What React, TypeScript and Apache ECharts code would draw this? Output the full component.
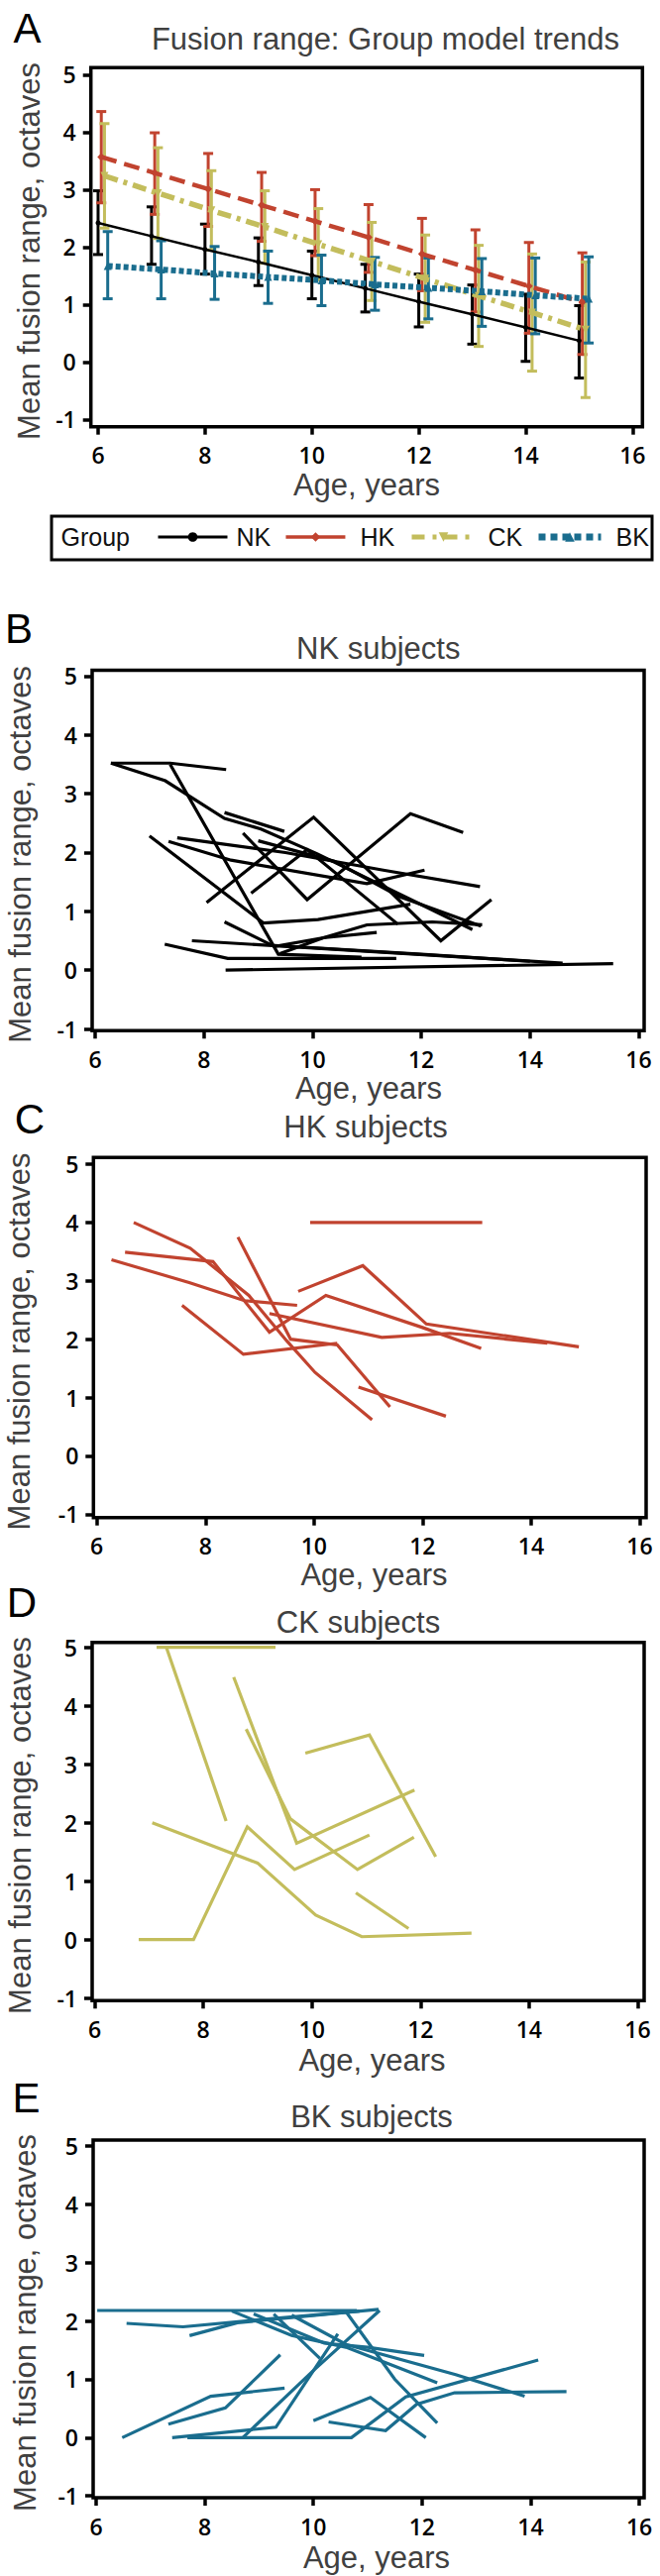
import React, { useEffect, useRef } from 'react';
import * as echarts from 'echarts';

// ---- panel A: group model trends (age, mean, CI) ----
const ages = [6, 7, 8, 9, 10, 11, 12, 13, 14, 15];

const nkMean = [2.42, 2.19, 1.96, 1.74, 1.51, 1.28, 1.05, 0.83, 0.6, 0.37];
const nkHigh = [2.98, 2.7, 2.4, 2.16, 1.93, 1.7, 1.53, 1.34, 1.18, 0.98];
const nkLow = [1.87, 1.7, 1.53, 1.33, 1.1, 0.87, 0.61, 0.31, 0.01, -0.28];

const hkMean = [3.57, 3.29, 3.01, 2.73, 2.45, 2.17, 1.88, 1.6, 1.32, 1.04];
const hkHigh = [4.36, 3.99, 3.63, 3.3, 3.0, 2.74, 2.5, 2.3, 2.08, 1.9];
const hkLow = [2.77, 2.57, 2.36, 2.1, 1.85, 1.56, 1.24, 0.87, 0.5, 0.13];

const ckMean = [3.24, 2.94, 2.64, 2.35, 2.05, 1.75, 1.45, 1.15, 0.86, 0.56];
const ckHigh = [4.15, 3.73, 3.33, 2.98, 2.67, 2.43, 2.21, 2.03, 1.88, 1.74];
const ckLow = [2.33, 2.15, 1.95, 1.72, 1.43, 1.07, 0.69, 0.27, -0.16, -0.62];

const bkMean = [1.67, 1.61, 1.54, 1.48, 1.42, 1.35, 1.29, 1.23, 1.16, 1.1];
const bkHigh = [2.27, 2.11, 2.01, 1.93, 1.86, 1.82, 1.81, 1.8, 1.81, 1.83];
const bkLow = [1.1, 1.1, 1.09, 1.02, 0.98, 0.9, 0.75, 0.62, 0.49, 0.33];

const xTicks = [6, 8, 10, 12, 14, 16];
const yTicks = [-1, 0, 1, 2, 3, 4, 5];

// ---- panels B-E: individual subjects, [age, mean fusion range] ----
const nkSubjects = [
  [[6.29, 3.52], [7.38, 3.52], [8.41, 3.41]],
  [[6.29, 3.52], [7.29, 3.22], [8.38, 2.58], [9.05, 2.4], [10.08, 1.98], [12.94, 0.69]],
  [[8.38, 2.68], [9.48, 2.36]],
  [[7.38, 3.5], [9.37, 0.27], [10.9, 0.22]],
  [[7.51, 2.25], [9.5, 2.0], [11.3, 1.7], [13.08, 1.42]],
  [[7.35, 2.19], [8.5, 1.87], [11.0, 1.47], [12.06, 1.7]],
  [[7.0, 2.28], [9.1, 0.8], [10.1, 0.86], [11.8, 1.12]],
  [[8.72, 2.33], [9.9, 1.2], [11.8, 2.66], [12.77, 2.34]],
  [[8.05, 1.15], [10.02, 2.6], [12.36, 0.5], [13.29, 1.2]],
  [[8.87, 1.31], [9.9, 2.05], [11.57, 0.78]],
  [[7.28, 0.44], [8.44, 0.2], [11.54, 0.2]],
  [[7.78, 0.5], [14.6, 0.12]],
  [[8.4, 0.0], [15.53, 0.11]],
  [[9.3, 0.42], [12.0, 0.27], [14.0, 0.15]],
  [[8.38, 0.82], [9.3, 0.4], [10.2, 0.55], [11.18, 0.64]],
  [[9.4, 0.28], [10.2, 0.55], [11.0, 0.77], [12.2, 0.82], [13.12, 0.77]],
  [[9.0, 2.2], [10.4, 1.85], [11.6, 1.25], [13.1, 0.75]],
];

const hkSubjects = [
  [[9.93, 4.0], [13.1, 4.0]],
  [[6.68, 4.0], [7.72, 3.56], [8.8, 2.75], [9.5, 1.97], [10.02, 1.43], [11.07, 0.62]],
  [[6.52, 3.49], [8.14, 3.33], [9.18, 2.12], [10.22, 2.75], [12.0, 2.2], [13.08, 1.84]],
  [[6.27, 3.36], [7.7, 2.97], [8.72, 2.66], [9.69, 2.58]],
  [[8.6, 3.75], [9.57, 2.0], [10.43, 1.9], [11.4, 0.84]],
  [[7.57, 2.58], [8.7, 1.74], [10.43, 1.93]],
  [[9.71, 2.82], [10.9, 3.26], [12.07, 2.26], [14.88, 1.87]],
  [[9.18, 2.44], [11.25, 2.03], [12.5, 2.1], [14.3, 1.93]],
  [[10.82, 1.18], [12.43, 0.68]],
];

const ckSubjects = [
  [[7.14, 5.0], [9.33, 5.0]],
  [[7.32, 5.0], [8.42, 2.03]],
  [[8.56, 4.49], [9.72, 1.65], [11.89, 2.56]],
  [[8.79, 3.6], [9.6, 2.07], [10.84, 1.2], [11.88, 1.75]],
  [[9.88, 3.19], [11.06, 3.5], [12.28, 1.42]],
  [[7.06, 2.0], [9.0, 1.31], [10.07, 0.42], [10.92, 0.05], [12.94, 0.11]],
  [[6.81, 0.0], [7.82, 0.0], [8.81, 1.93], [9.68, 1.2], [11.06, 1.79]],
  [[10.81, 0.8], [11.78, 0.19]],
];

const bkSubjects = [
  [[6.02, 2.18], [10.8, 2.18]],
  [[6.56, 1.96], [7.6, 1.9], [9.0, 2.02], [10.85, 2.17]],
  [[7.72, 1.75], [8.6, 1.97], [11.2, 2.2]],
  [[8.5, 2.17], [9.6, 1.75], [10.6, 1.55], [12.28, 0.94]],
  [[9.27, 2.12], [10.12, 1.36]],
  [[8.9, 2.12], [10.2, 1.62], [11.0, 1.55], [12.04, 1.41]],
  [[10.6, 2.16], [11.5, 1.0], [12.28, 0.25]],
  [[10.0, 0.29], [11.05, 0.69], [12.07, 0.0]],
  [[10.28, 0.27], [11.33, 0.12], [11.9, 0.57], [12.6, 0.77], [14.66, 0.79]],
  [[9.6, 2.1], [10.6, 1.6], [12.62, 1.08], [13.89, 0.71]],
  [[6.48, 0.0], [8.11, 0.71], [9.47, 0.85]],
  [[7.33, 0.23], [8.38, 0.51], [9.39, 1.42]],
  [[7.4, 0.0], [9.31, 0.18], [10.45, 1.78]],
  [[7.68, 0.0], [10.7, 0.0], [11.7, 0.7], [14.14, 1.33]],
  [[8.7, 0.0], [10.0, 1.15], [11.22, 2.18]],
];

const BLACK = '#000000';
const RED = '#c1432f';
const OLIVE = '#c3bd5c';
const BLUE = '#1a6d8e';

const TITLE_FONT = '"Liberation Sans", Arial, Helvetica, sans-serif';
const TICK_FONT = '"Open Sans", "Liberation Sans", sans-serif';
const GREY = '#404040';
const TEXT_SIZE = 31;

// layout of the five frames (pixels) and their axis extents
const panels = [
  { letter: 'A', title: 'Fusion range: Group model trends', left: 91.7, top: 68.3, width: 556.6, height: 362.4,
    xMin: 5.865, xMax: 16.185, yMin: -1.128, yMax: 5.124, letterX: 27.6, letterY: 28.5, titleX: 389, titleY: 39.5, yNameX: 29, xNameX: 370, xNameY: 489 },
  { letter: 'B', title: 'NK subjects', left: 93, top: 676.6, width: 557, height: 363.7,
    xMin: 5.945, xMax: 16.1, yMin: -1.03, yMax: 5.098, letterX: 19, letterY: 634.6, titleX: 381.7, titleY: 654.6, yNameX: 20.5, xNameX: 372, xNameY: 1098 },
  { letter: 'C', title: 'HK subjects', left: 94.3, top: 1168.3, width: 557.7, height: 363.4,
    xMin: 5.938, xMax: 16.119, yMin: -1.058, yMax: 5.114, letterX: 29.8, letterY: 1129, titleX: 369, titleY: 1137, yNameX: 19.5, xNameX: 377.5, xNameY: 1589 },
  { letter: 'D', title: 'CK subjects', left: 93, top: 1657.7, width: 557, height: 361.6,
    xMin: 5.953, xMax: 16.12, yMin: -1.044, yMax: 5.085, letterX: 22, letterY: 1617, titleX: 361.5, titleY: 1637, yNameX: 20.5, xNameX: 375.5, xNameY: 2079 },
  { letter: 'E', title: 'BK subjects', left: 94, top: 2160, width: 556, height: 361,
    xMin: 5.945, xMax: 16.09, yMin: -1.03, yMax: 5.102, letterX: 26.6, letterY: 2117.5, titleX: 375, titleY: 2136, yNameX: 25, xNameX: 380, xNameY: 2581 },
];

const groups = [
  { name: 'NK', color: BLACK, mean: nkMean, high: nkHigh, low: nkLow, dodge: 0,
    lineType: 'solid' as any, width: 2.5, symbol: 'circle', symbolRotate: 0, symbolSize: 5 },
  { name: 'HK', color: RED, mean: hkMean, high: hkHigh, low: hkLow, dodge: 0.06,
    lineType: [16, 8], width: 4.5, symbol: 'diamond', symbolRotate: 0, symbolSize: 8 },
  { name: 'CK', color: OLIVE, mean: ckMean, high: ckHigh, low: ckLow, dodge: 0.12,
    lineType: [14, 6, 4, 6], width: 5.5, symbol: 'triangle', symbolRotate: 180, symbolSize: 8 },
  { name: 'BK', color: BLUE, mean: bkMean, high: bkHigh, low: bkLow, dodge: 0.18,
    lineType: [5, 3], width: 6, symbol: 'triangle', symbolRotate: 0, symbolSize: 8 },
];

// one legend box entry per group: where the sample line starts, how long it is, text gap
const legendSlots = [
  { name: 'NK', left: 158, itemWidth: 70, gap: 4, lineStyle: { width: 3, type: 'solid' } },
  { name: 'HK', left: 286.7, itemWidth: 60, gap: 10, lineStyle: { width: 3.5, type: 'solid' } },
  { name: 'CK', left: 413, itemWidth: 64, gap: 8, lineStyle: { width: 5, type: [13, 8, 4, 8] } },
  { name: 'BK', left: 540, itemWidth: 63, gap: 10, lineStyle: { width: 7, type: [7, 5] } },
];

const subjectSets = [
  { subjects: nkSubjects, color: BLACK },
  { subjects: hkSubjects, color: RED },
  { subjects: ckSubjects, color: OLIVE },
  { subjects: bkSubjects, color: BLUE },
];

const buildOption = (): echarts.EChartsOption => {
  const grid = panels.map((p) => ({
    left: p.left,
    top: p.top,
    width: p.width,
    height: p.height,
    show: true,
    borderColor: '#000',
    borderWidth: 3.5,
    backgroundColor: 'transparent',
  }));

  const xAxis = panels.map((p, i) => ({
    type: 'value' as const,
    gridIndex: i,
    position: 'bottom' as const,
    min: p.xMin,
    max: p.xMax,
    axisLine: { show: false, onZero: false },
    splitLine: { show: false },
    axisTick: { show: true, customValues: xTicks, length: 8, lineStyle: { color: '#000', width: 3.5 } },
    axisLabel: { customValues: xTicks, margin: 17, fontSize: 23, fontWeight: 600, fontFamily: TICK_FONT, color: '#000' },
  }));

  const yAxis = panels.map((p, i) => ({
    type: 'value' as const,
    gridIndex: i,
    position: 'left' as const,
    min: p.yMin,
    max: p.yMax,
    axisLine: { show: false, onZero: false },
    splitLine: { show: false },
    axisTick: { show: true, customValues: yTicks, length: 8, lineStyle: { color: '#000', width: 3.5 } },
    axisLabel: { customValues: yTicks, margin: 15, fontSize: 23, fontWeight: 600, fontFamily: TICK_FONT, color: '#000' },
  }));

  const series: any[] = [];

  // error bars of panel A
  groups.forEach((g) => {
    series.push({
      type: 'custom',
      xAxisIndex: 0,
      yAxisIndex: 0,
      silent: true,
      data: ages.map((a, k) => [a + g.dodge, g.low[k], g.high[k]]),
      renderItem: (params: any, api: any) => {
        const x = api.value(0);
        const hi = api.coord([x, api.value(2)]);
        const lo = api.coord([x, api.value(1)]);
        const cap = 5;
        const style = { stroke: g.color, lineWidth: 3 };
        return {
          type: 'group',
          children: [
            { type: 'line', shape: { x1: hi[0], y1: hi[1], x2: lo[0], y2: lo[1] }, style },
            { type: 'line', shape: { x1: hi[0] - cap, y1: hi[1], x2: hi[0] + cap, y2: hi[1] }, style },
            { type: 'line', shape: { x1: lo[0] - cap, y1: lo[1], x2: lo[0] + cap, y2: lo[1] }, style },
          ],
        };
      },
    });
  });

  // trend lines of panel A
  groups.forEach((g) => {
    series.push({
      name: g.name,
      type: 'line',
      xAxisIndex: 0,
      yAxisIndex: 0,
      data: ages.map((a, k) => [a + g.dodge, g.mean[k]]),
      symbol: g.symbol,
      symbolRotate: g.symbolRotate,
      symbolSize: g.symbolSize,
      showSymbol: true,
      itemStyle: { color: g.color },
      lineStyle: { color: g.color, width: g.width, type: g.lineType, cap: 'butt' },
      silent: true,
    });
  });

  // subject trajectories of panels B-E
  subjectSets.forEach((set, s) => {
    set.subjects.forEach((pts) => {
      series.push({
        type: 'line',
        xAxisIndex: s + 1,
        yAxisIndex: s + 1,
        data: pts,
        showSymbol: false,
        symbol: 'none',
        lineStyle: { color: set.color, width: 3.2, join: 'miter' },
        silent: true,
      });
    });
  });

  const graphic: any[] = [];
  panels.forEach((p) => {
    graphic.push({
      type: 'text', x: p.letterX, y: p.letterY,
      style: { text: p.letter, fontSize: 42, fontFamily: TITLE_FONT, fill: '#000', align: 'center', verticalAlign: 'middle', textAlign: 'center', textVerticalAlign: 'middle' },
    });
    graphic.push({
      type: 'text', x: p.titleX, y: p.titleY,
      style: { text: p.title, fontSize: TEXT_SIZE, fontFamily: TITLE_FONT, fill: GREY, align: 'center', verticalAlign: 'middle', textAlign: 'center', textVerticalAlign: 'middle' },
    });
    graphic.push({
      type: 'text', x: p.yNameX, y: p.top + p.height / 2 + 4, rotation: Math.PI / 2,
      style: { text: 'Mean fusion range, octaves', fontSize: TEXT_SIZE, fontFamily: TITLE_FONT, fill: GREY, align: 'center', verticalAlign: 'middle', textAlign: 'center', textVerticalAlign: 'middle' },
    });
    graphic.push({
      type: 'text', x: p.xNameX, y: p.xNameY,
      style: { text: 'Age, years', fontSize: TEXT_SIZE, fontFamily: TITLE_FONT, fill: GREY, align: 'center', verticalAlign: 'middle', textAlign: 'center', textVerticalAlign: 'middle' },
    });
  });

  // legend box and its heading
  graphic.push({
    type: 'rect', shape: { x: 52, y: 521, width: 606, height: 44 },
    style: { fill: 'none', stroke: '#000', lineWidth: 3 },
  });
  graphic.push({
    type: 'text', x: 61.5, y: 542,
    style: { text: 'Group', fontSize: 25, fontFamily: TITLE_FONT, fill: '#111', align: 'left', verticalAlign: 'middle', textAlign: 'left', textVerticalAlign: 'middle' },
  });

  const legend = legendSlots.map((slot) => ({
    left: slot.left,
    top: 529,
    padding: 0,
    itemWidth: slot.itemWidth,
    itemHeight: 12,
    selectedMode: false,
    textStyle: { fontSize: 25, lineHeight: 26, fontFamily: TITLE_FONT, color: '#111', padding: [0, 0, 0, slot.gap] },
    data: [{ name: slot.name, lineStyle: slot.lineStyle }],
  }));

  return {
    animation: false,
    backgroundColor: '#fff',
    grid,
    xAxis,
    yAxis,
    legend: legend as any,
    graphic,
    series,
  };
};

const App: React.FC = () => {
  const chartRef = useRef<HTMLDivElement>(null);

  useEffect(() => {
    if (!chartRef.current) return;
    const chart = echarts.init(chartRef.current, undefined, { renderer: 'svg' });
    chart.setOption(buildOption());
    return () => {
      chart.dispose();
    };
  }, []);

  return <div ref={chartRef} style={{ position: 'absolute', left: 0, top: 0, width: 666, height: 2600 }} />;
};

export default App;
